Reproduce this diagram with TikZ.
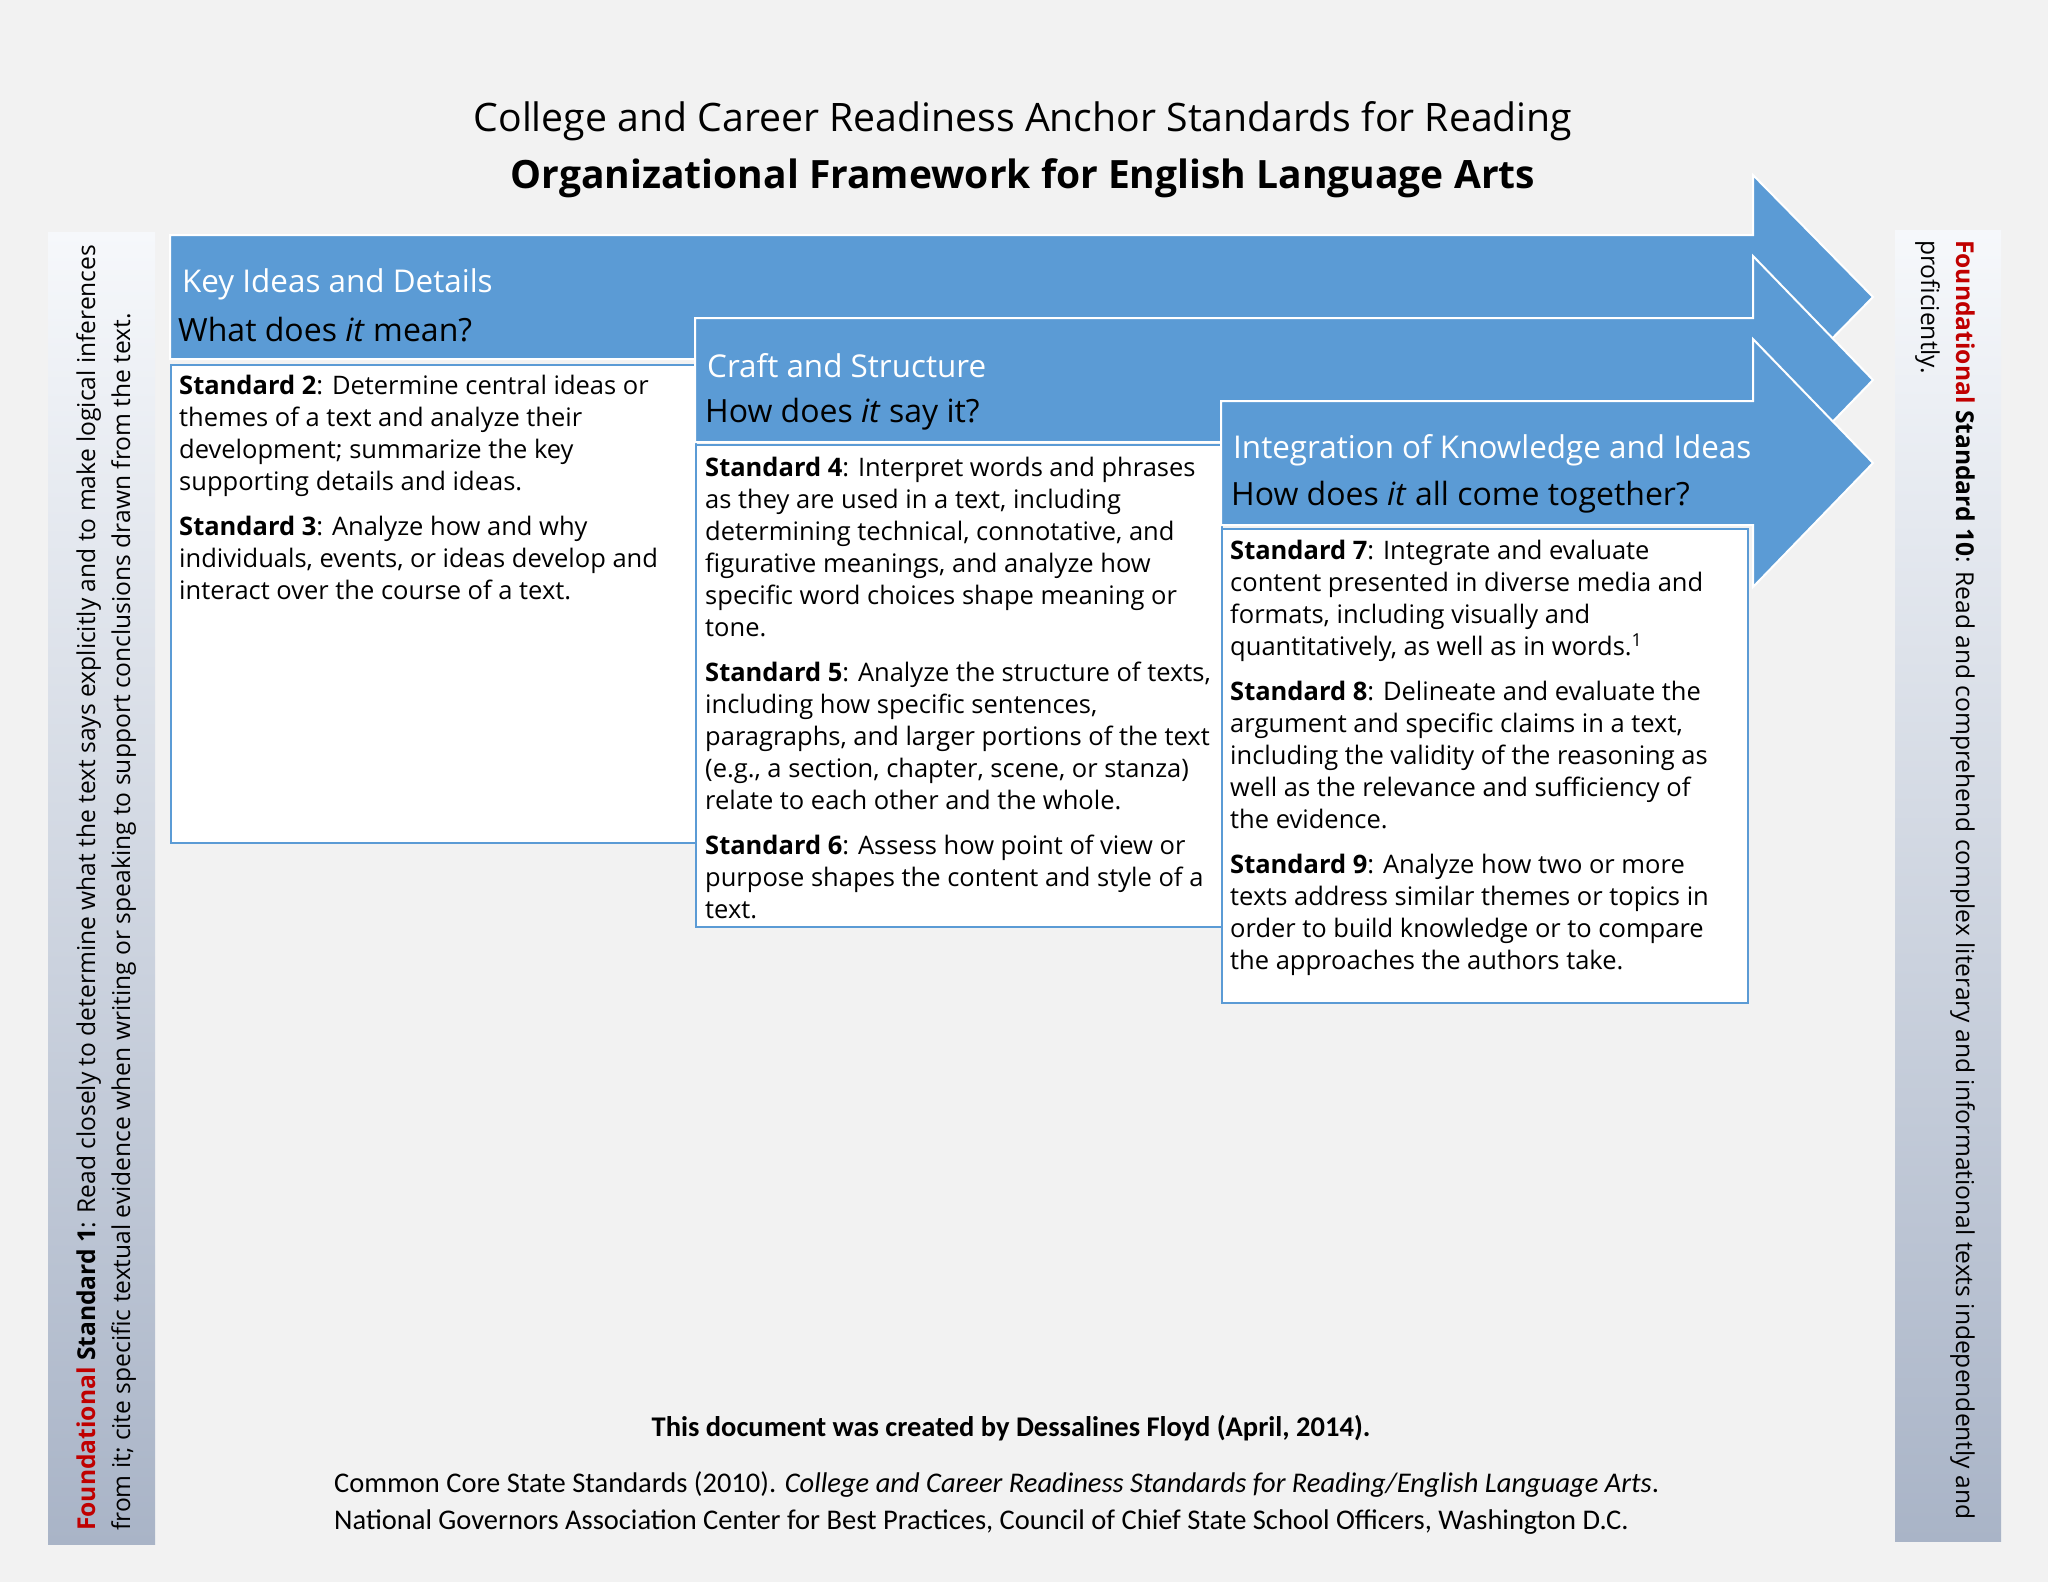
\documentclass[tikz,border=0pt]{standalone}
\usepackage{fontspec}
\setmainfont{Open Sans}
\newfontfamily\califont{Carlito}
\definecolor{bgc}{HTML}{F2F2F2}
\definecolor{ablue}{HTML}{5B9BD5}
\definecolor{bblue}{HTML}{5B9BD5}
\definecolor{fred}{HTML}{C00000}
\definecolor{bartop}{HTML}{F6F8FB}
\definecolor{barbot}{HTML}{A9B4C7}
\begin{document}
\begin{tikzpicture}[x=1pt,y=-1pt,
  arrowshape/.style={fill=ablue, draw=white, line width=2pt, line join=miter},
  cbox/.style={fill=white, draw=bblue, line width=2pt, anchor=north west, inner sep=0pt},
  hdr/.style={anchor=west, inner sep=0pt, text=white, font=\fontsize{31.4}{36}\selectfont},
  qst/.style={anchor=west, inner sep=0pt, text=black, font=\fontsize{32}{36}\selectfont},
  bodytxt/.style={anchor=north west, inner sep=0pt, align=left, font=\fontsize{25.5}{32}\selectfont},
  sidebar/.style={top color=bartop, bottom color=barbot, draw=none},
  sidetxt/.style={anchor=north west, inner sep=0pt, align=left, font=\fontsize{24.6}{35}\selectfont},
  foot/.style={inner sep=0pt, font=\califont\fontsize{28.5}{32}\selectfont},
  footbold/.style={inner sep=0pt, font=\califont\fontsize{28.5}{32}\selectfont\bfseries}
]
\fill[bgc] (0,0) rectangle (2048,1582);
\useasboundingbox (0,0) rectangle (2048,1582);

% side bars
\path[sidebar] (48,232) rectangle (155,1544);
\path[sidebar] (1895,230) rectangle (2001,1541);

% title
\node[inner sep=0pt, font=\fontsize{39.2}{44}\selectfont] (t1) at (1023,121) {College and Career Readiness Anchor Standards for Reading};
\node[inner sep=0pt, font=\fontsize{39}{44}\selectfont\bfseries] (t2) at (1023,178) {Organizational Framework for English Language Arts};

% arrow 1
\path[arrowshape] (170,235) -- (1753,235) -- (1753,175) -- (1873,297) -- (1753,419) -- (1753,359) -- (170,359) -- cycle;
\node[cbox, minimum width=525pt, minimum height=478pt] (box1) at (170,364) {};
% arrow 2
\path[arrowshape] (695,318) -- (1753,318) -- (1753,256) -- (1873,380) -- (1753,504) -- (1753,442) -- (695,442) -- cycle;
\node[cbox, minimum width=526pt, minimum height=482pt] (box2) at (695,444) {};
% arrow 3
\path[arrowshape] (1221,401) -- (1753,401) -- (1753,339) -- (1873,463) -- (1753,587) -- (1753,525) -- (1221,525) -- cycle;
\node[cbox, minimum width=526pt, minimum height=474pt] (box3) at (1221,528) {};

% headers
\node[hdr] (h1) at (182,284) {Key Ideas and Details};
\node[qst] (q1) at (178,330) {What does \textit{it} mean?};
\node[hdr] (h2) at (707,366) {Craft and Structure};
\node[qst] (q2) at (705,414) {How does \textit{it} say it?};
\node[hdr] (h3) at (1233,450) {Integration of Knowledge and Ideas};
\node[qst] (q3) at (1231,497) {How does \textit{it} all come together?};

% body texts
\node[bodytxt] (b1) at (179,375) {\textbf{Standard 2}: Determine central ideas or\\
themes of a text and analyze their\\
development; summarize the key\\
supporting details and ideas.\\[13pt]
\textbf{Standard 3}: Analyze how and why\\
individuals, events, or ideas develop and\\
interact over the course of a text.};

\node[bodytxt] (b2) at (705,457) {\textbf{Standard 4}: Interpret words and phrases\\
as they are used in a text, including\\
determining technical, connotative, and\\
figurative meanings, and analyze how\\
specific word choices shape meaning or\\
tone.\\[13pt]
\textbf{Standard 5}: Analyze the structure of texts,\\
including how specific sentences,\\
paragraphs, and larger portions of the text\\
(e.g., a section, chapter, scene, or stanza)\\
relate to each other and the whole.\\[13pt]
\textbf{Standard 6}: Assess how point of view or\\
purpose shapes the content and style of a\\
text.};

\node[bodytxt] (b3) at (1230,540) {\textbf{Standard 7}: Integrate and evaluate\\
content presented in diverse media and\\
formats, including visually and\\
quantitatively, as well as in words.\textsuperscript{1}\\[13pt]
\textbf{Standard 8}: Delineate and evaluate the\\
argument and specific claims in a text,\\
including the validity of the reasoning as\\
well as the relevance and sufficiency of\\
the evidence.\\[13pt]
\textbf{Standard 9}: Analyze how two or more\\
texts address similar themes or topics in\\
order to build knowledge or to compare\\
the approaches the authors take.};

% side texts
\node[sidetxt, rotate=90] (s1) at (76,1531) {\textcolor{fred}{\textbf{Foundational}} \textbf{Standard 1}: Read closely to determine what the text says explicitly and to make logical inferences\\
from it; cite specific textual evidence when writing or speaking to support conclusions drawn from the text.};
\node[sidetxt, rotate=-90] (s10) at (1975,240) {\textcolor{fred}{\textbf{Foundational}} \textbf{Standard 10}: Read and comprehend complex literary and informational texts independently and\\
proficiently.};

% footer
\node[footbold] (f1) at (1011,1428) {This document was created by Dessalines Floyd (April, 2014).};
\node[foot, anchor=west] (f2) at (334,1485) {Common Core State Standards (2010). \textit{College and Career Readiness Standards for Reading/English Language Arts}.};
\node[foot, anchor=west] (f3) at (334,1522) {National Governors Association Center for Best Practices, Council of Chief State School Officers, Washington D.C.};
\end{tikzpicture}
\end{document}
